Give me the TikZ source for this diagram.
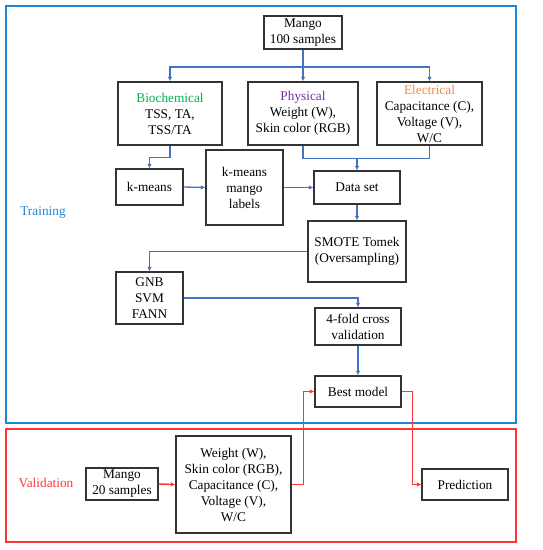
\documentclass[tikz,border=0pt]{standalone}
\usepackage{fontspec}
\setmainfont{Liberation Serif}
\usetikzlibrary{arrows.meta}
\definecolor{arrowblue}{HTML}{4472C4}
\definecolor{frameblue}{HTML}{1C86D8}
\definecolor{fred}{HTML}{FF3535}
\definecolor{bgreen}{HTML}{00B050}
\definecolor{ppurple}{HTML}{7030A0}
\definecolor{eorange}{HTML}{F08A4B}
\begin{document}
\begin{tikzpicture}[x=1pt,y=-1pt,
  box/.style={draw=black!80, line width=1.2pt, align=center, inner sep=0pt,
    font=\fontsize{13.3}{16}\selectfont},
  lbl/.style={inner sep=0pt, font=\fontsize{13.3}{16}\selectfont},
  barrow/.style={draw=arrowblue, line width=1.3pt, -{Latex[length=4.5pt,width=4.5pt]}},
  bline/.style={draw=arrowblue, line width=1.3pt},
  rarrow/.style={draw=fred, line width=1.5pt, -{Latex[length=4.5pt,width=4.5pt]}}]
\useasboundingbox (0,0) rectangle (542,550);
\draw[frameblue, line width=1.8pt] (6,6) rectangle (516,423);
\draw[fred, line width=1.8pt] (6,429) rectangle (516,542);
\node[lbl, text=frameblue] (train) at (43,213) {Training};
\node[lbl, text=fred] (valid) at (46,483) {Validation};

\node[box, minimum width=78pt, minimum height=33pt] (mango) at (303,32.5) {Mango\\100 samples};
\node[box, minimum width=104pt, minimum height=63pt] (bio) at (170,113.5) {\textcolor{bgreen}{Biochemical}\\TSS, TA,\\TSS/TA};
\node[box, minimum width=110pt, minimum height=63pt] (phys) at (303,113.5) {\textcolor{ppurple}{Physical}\\Weight (W),\\Skin color (RGB)};
\node[box, minimum width=105pt, minimum height=63pt] (elec) at (429.5,113.5) {\textcolor{eorange}{Electrical}\\Capacitance (C),\\Voltage (V),\\W/C};
\node[box, minimum width=67pt, minimum height=36pt] (kmeans) at (149.5,187) {k-means};
\node[box, minimum width=77pt, minimum height=75pt] (labels) at (244.5,187.5) {k-means\\mango\\labels};
\node[box, minimum width=86pt, minimum height=33pt] (data) at (357,187.5) {Data set};
\node[box, minimum width=98pt, minimum height=61pt] (smote) at (357,251.5) {SMOTE Tomek\\(Oversampling)};
\node[box, minimum width=67pt, minimum height=52pt] (gnb) at (149.5,298) {GNB\\SVM\\FANN};
\node[box, minimum width=86pt, minimum height=37pt] (cv) at (358,326.5) {4-fold cross\\validation};
\node[box, minimum width=86pt, minimum height=31pt] (best) at (358,391.5) {Best model};
\node[box, minimum width=86pt, minimum height=31pt] (pred) at (465,484.5) {Prediction};
\node[box, minimum width=72pt, minimum height=32pt] (mango20) at (122,484) {Mango\\20 samples};
\node[box, minimum width=115pt, minimum height=97pt] (feat) at (233.5,484.5) {Weight (W),\\Skin color (RGB),\\Capacitance (C),\\Voltage (V),\\W/C};

\coordinate (split) at (303,67);
\coordinate (merge) at (357,158);
\draw[barrow] (mango.south) -- (phys.north);
\draw[barrow] (split) -| (bio.north);
\draw[barrow] (split) -| (elec.north);
\draw[barrow] (bio.south) -- ++(0,12) -| (kmeans.north);
\draw[barrow] (kmeans.east) -- (labels.west);
\draw[barrow] (labels.east) -- (data.west);
\draw[bline] (phys.south) -- ++(0,13) -| (elec.south);
\draw[barrow] (merge) -- (data.north);
\draw[barrow] (data.south) -- (smote.north);
\draw[barrow] (smote.west) -| (gnb.north);
\draw[barrow] (gnb.east) -| (cv.north);
\draw[barrow] (cv.south) -- (best.north);
\draw[rarrow] (best.east) -- ++(11,0) |- (pred.west);
\draw[rarrow] (mango20.east) -- (feat.west);
\draw[rarrow] (feat.east) -- ++(12,0) |- (best.west);
\end{tikzpicture}
\end{document}
